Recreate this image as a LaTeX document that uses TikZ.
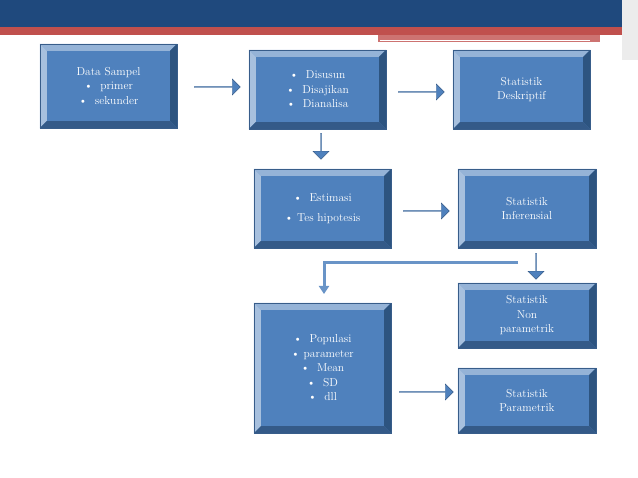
\documentclass[tikz,border=0pt]{standalone}
\usepackage{xcolor}
\usepackage{tikz}
\usetikzlibrary{calc,shapes.arrows,arrows.meta}
\definecolor{boxblue}{RGB}{79,129,189}
\definecolor{boxline}{RGB}{56,93,138}
\definecolor{bevtop}{RGB}{149,179,215}
\definecolor{bevleft}{RGB}{167,192,222}
\definecolor{bevright}{RGB}{45,84,128}
\definecolor{bevbot}{RGB}{52,90,136}
\definecolor{barblue}{RGB}{31,73,125}
\definecolor{barred}{RGB}{192,80,77}
\tikzset{
  box/.style={draw=boxline,fill=boxblue,text=white,align=center,inner sep=0pt,
    font=\fontsize{11.5}{14.5}\selectfont},
  rarrow/.style={single arrow,draw=boxline,fill=boxblue,minimum height=46pt,
    minimum width=16pt,single arrow head extend=3pt,inner sep=0pt},
  darrow/.style={rarrow,shape border rotate=270,minimum height=26pt}
}
\newcommand\bevbox[6]{%
\node[box,minimum width={(#4-#2)*1pt},minimum height={(#5-#3)*1pt}] (#1) at ({(#2+#4)/2},{(#3+#5)/2}) {#6};
\fill[bevtop] (#1.north west) -- (#1.north east) -- ($(#1.north east)+(-7,7)$) -- ($(#1.north west)+(7,7)$) -- cycle;
\fill[bevleft] (#1.north west) -- ($(#1.north west)+(7,7)$) -- ($(#1.south west)+(7,-7)$) -- (#1.south west) -- cycle;
\fill[bevright] (#1.north east) -- ($(#1.north east)+(-7,7)$) -- ($(#1.south east)+(-7,-7)$) -- (#1.south east) -- cycle;
\fill[bevbot] (#1.south west) -- ($(#1.south west)+(7,-7)$) -- ($(#1.south east)+(-7,-7)$) -- (#1.south east) -- cycle;
\draw[boxline] (#1.north west) rectangle (#1.south east);
}
\begin{document}
\begin{tikzpicture}[x=1pt,y=-1pt]
\useasboundingbox (0,0) rectangle (638,478);
% header bar
\fill[barblue] (0,0) rectangle (638,27);
\fill[barred] (0,27) rectangle (638,35);
\fill[barred!80] (378,35) rectangle (600,42);
\draw[white,line width=1pt] (380,41) -- (590,41);
\draw[white,line width=1pt] (515,43) -- (628,43);
\fill[white!85!gray] (622,0) rectangle (638,60);
% boxes
\bevbox{dat}{40}{44}{177}{128}{Data Sampel\\ \textbullet\ \ primer\\ \textbullet\ \ sekunder}
\bevbox{sus}{249}{50}{386}{129}{\textbullet\ \ Disusun\\ \textbullet\ \ Disajikan\\ \textbullet\ \ Dianalisa}
\bevbox{des}{453}{50}{590}{129}{Statistik\\ Deskriptif}
\bevbox{est}{254}{169}{391}{248}{\textbullet\ \ Estimasi\\[6pt] \textbullet\ Tes hipotesis}
\bevbox{inf}{458}{169}{596}{248}{Statistik\\ Inferensial}
\bevbox{non}{458}{283}{596}{348}{Statistik\\ Non\\ parametrik}
\bevbox{pop}{254}{303}{391}{433}{\textbullet\ \ Populasi\\ \textbullet\ parameter\\ \textbullet\ \ Mean\\ \textbullet\ \ SD\\ \textbullet\ \ dll}
\bevbox{par}{458}{368}{596}{433}{Statistik\\ Parametrik}
% block arrows
\node[rarrow] (a1) at (217,87) {};
\node[rarrow] (a2) at (421,92) {};
\node[rarrow] (a3) at (426,211) {};
\node[rarrow,minimum height=54pt] (a4) at (426,392) {};
\node[darrow] (d1) at (321,146) {};
\node[darrow] (d2) at (536,266) {};
% elbow
\coordinate (e1) at (518,263);
\coordinate (e2) at (324,294);
\draw[boxblue!85!white,line width=3pt,-{Triangle[length=8pt,width=10pt]}] (e1) -| (e2);
\end{tikzpicture}
\end{document}
